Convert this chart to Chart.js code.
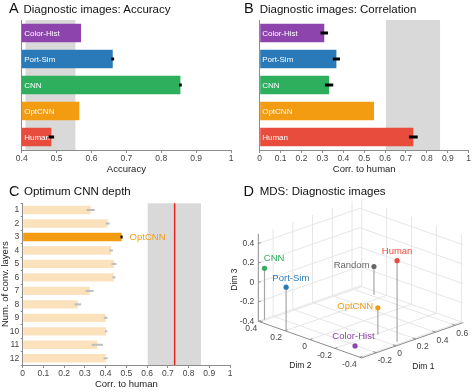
<!DOCTYPE html>
<html><head><meta charset="utf-8">
<script src="https://cdn.jsdelivr.net/npm/chart.js@4.4.1/dist/chart.umd.min.js"></script>
<style>
html,body{margin:0;padding:0;background:#fff;}
#wrap{position:relative;width:474px;height:392px;overflow:hidden;font-family:"Liberation Sans",Arial,Helvetica,sans-serif;}
canvas{position:absolute;}
.lt{position:absolute;font-size:14.5px;line-height:1;color:#111;}
.tt{position:absolute;font-size:11.5px;line-height:1;color:#111;white-space:nowrap;}
</style></head><body>
<div id="wrap">
<canvas id="cA" width="237" height="176" style="left:0;top:0"></canvas>
<canvas id="cB" width="237" height="176" style="left:237px;top:0"></canvas>
<canvas id="cC" width="237" height="212" style="left:0;top:180px"></canvas>
<canvas id="cD" width="248" height="212" style="left:226px;top:180px"></canvas>
<div class="lt" style="left:9px;top:1px">A</div><div class="tt" style="left:23.5px;top:3.6px">Diagnostic images: Accuracy</div>
<div class="lt" style="left:244px;top:1px">B</div><div class="tt" style="left:259.7px;top:3.6px">Diagnostic images: Correlation</div>
<div class="lt" style="left:9px;top:183.7px">C</div><div class="tt" style="left:24px;top:186.3px">Optimum CNN depth</div>
<div class="lt" style="left:243.5px;top:183.7px">D</div><div class="tt" style="left:259.7px;top:186.3px">MDS: Diagnostic images</div>
</div>
<script>
// ---------------- DATA ----------------
const modelNames = ['Color-Hist', 'Port-Sim', 'CNN', 'OptCNN', 'Human'];
const accuracy = [0.570, 0.661, 0.855, 0.565, 0.485];
const accuracyErr = [0, 0.004, 0.004, 0, 0.008];
const accuracyCeiling = [0.411, 0.554];
const accuracyTicks = [0.4, 0.5, 0.6, 0.7, 0.8, 0.9, 1];

const corrToHuman = [0.309, 0.367, 0.332, 0.547, 0.735];
const corrErr = [0.018, 0.017, 0.020, 0, 0.021];
const corrCeiling = [0.604, 0.863];
const corrTicks = [0, 0.1, 0.2, 0.3, 0.4, 0.5, 0.6, 0.7, 0.8, 0.9, 1];

const layerLabels = ['1', '2', '3', '4', '5', '6', '7', '8', '9', '10', '11', '12'];
const layerCorr = [0.328, 0.410, 0.477, 0.426, 0.440, 0.440, 0.323, 0.266, 0.400, 0.402, 0.360, 0.400];
const layerErr = [0.020, 0.010, 0.005, 0.009, 0.012, 0.008, 0.019, 0.016, 0.009, 0.006, 0.027, 0.010];
const optLayer = '3';
const layerCeiling = [0.603, 0.860];
const humanConsistency = 0.733;

const mdsNames = ['CNN', 'Port-Sim', 'Random', 'Human', 'OptCNN', 'Color-Hist'];
const mdsDim1 = [-0.295, -0.347, 0.627, 0.064, 0.067, -0.225];
const mdsDim2 = [0.409, 0.194, 0.260, -0.372, -0.215, -0.263];
const mdsDim3 = [0.128, 0.050, -0.110, 0.435, -0.123, -0.390];
const dim1Ticks = [-0.2, 0, 0.2, 0.4, 0.6];
const dim2Ticks = [-0.4, -0.2, 0, 0.2, 0.4];
const dim3Ticks = [-0.4, -0.2, 0, 0.2, 0.4];
const dim1Lim = [-0.35, 0.68];
const dim2Lim = [-0.415, 0.415];
const dim3Lim = [-0.4, 0.5];

// ---------------- STYLE ----------------
const FONT = '"Liberation Sans", Arial, Helvetica, sans-serif';
const palette = {
  'Color-Hist': '#8e44ad', 'Port-Sim': '#2a7ab9', 'CNN': '#2daf5e',
  'OptCNN': '#f39c12', 'Human': '#e74c3c', 'Random': '#666666'
};
const AXIS = '#8c8c8c', TICKTXT = '#444', TITLETXT = '#222', BAND = '#d9d9d9';
Chart.defaults.font.family = FONT;

const fmt = v => String(Math.round(v * 10) / 10);

function bandPlugin(range, line) {
  return { id: 'band', beforeDatasetsDraw(chart) {
    const { ctx, chartArea: a, scales: { x } } = chart;
    ctx.save();
    ctx.fillStyle = BAND;
    const x1 = x.getPixelForValue(range[0]), x2 = x.getPixelForValue(range[1]);
    ctx.fillRect(x1, a.top, x2 - x1, a.bottom - a.top);
    if (line != null) {
      const xl = x.getPixelForValue(line);
      ctx.strokeStyle = '#e8261f'; ctx.lineWidth = 1.5;
      ctx.beginPath(); ctx.moveTo(xl, a.top); ctx.lineTo(xl, a.bottom); ctx.stroke();
    }
    ctx.restore();
  } };
}
function errPlugin(values, errs, colorOf, widthOf) {
  return { id: 'err', afterDatasetsDraw(chart) {
    const meta = chart.getDatasetMeta(0), x = chart.scales.x, ctx = chart.ctx;
    ctx.save();
    values.forEach((v, i) => {
      const e = errs[i]; if (!e) return;
      const y = meta.data[i].y;
      ctx.strokeStyle = colorOf(i); ctx.lineWidth = widthOf(i);
      ctx.beginPath(); ctx.moveTo(x.getPixelForValue(v - e), y); ctx.lineTo(x.getPixelForValue(v + e), y); ctx.stroke();
    });
    ctx.restore();
  } };
}
function insideLabelPlugin(labels) {
  return { id: 'inlab', afterDatasetsDraw(chart) {
    const meta = chart.getDatasetMeta(0), ctx = chart.ctx, a = chart.chartArea;
    ctx.save();
    ctx.fillStyle = '#fff'; ctx.font = '8px ' + FONT; ctx.textBaseline = 'middle'; ctx.textAlign = 'left';
    labels.forEach((t, i) => ctx.fillText(t, a.left + 2.5, meta.data[i].y + 0.5));
    ctx.restore();
  } };
}

function xAxis(min, max, ticks, title, h, titlePad) {
  return {
    type: 'linear', min, max,
    afterBuildTicks: s => { s.ticks = ticks.map(v => ({ value: v })); },
    afterFit: s => { s.height = h; },
    ticks: { font: { size: 8.5 }, color: TICKTXT, padding: 1, callback: v => fmt(v), maxRotation: 0, autoSkip: false },
    grid: { drawOnChartArea: false, drawTicks: true, tickLength: 3, color: AXIS },
    border: { color: AXIS },
    title: { display: true, text: title, font: { size: 9.5 }, color: TITLETXT, padding: { top: 0, bottom: titlePad } }
  };
}

function modelPanel(id, values, errs, ceiling, min, max, ticks, title, padLeft, padRight) {
  return new Chart(document.getElementById(id), {
    type: 'bar',
    data: { labels: modelNames, datasets: [{ data: values, backgroundColor: modelNames.map(n => palette[n]),
      barPercentage: 0.72, categoryPercentage: 1, borderWidth: 0 }] },
    options: {
      indexAxis: 'y', responsive: false, animation: false, devicePixelRatio: 1,
      layout: { padding: { left: padLeft, right: padRight, top: 20, bottom: 0 } },
      scales: {
        x: xAxis(min, max, ticks, title, 26, 1.3),
        y: { ticks: { display: false }, grid: { display: false, drawTicks: false },
             border: { display: true, color: AXIS }, afterFit: s => { s.width = 0; } }
      },
      plugins: { legend: { display: false }, tooltip: { enabled: false } }
    },
    plugins: [bandPlugin(ceiling), insideLabelPlugin(modelNames), errPlugin(values, errs, () => '#000', () => 3)]
  });
}

modelPanel('cA', accuracy, accuracyErr, accuracyCeiling, 0.4, 1, accuracyTicks, 'Accuracy', 21.7, 6);
modelPanel('cB', corrToHuman, corrErr, corrCeiling, 0, 1, corrTicks, 'Corr. to human', 22.7, 5.3);

// ---------------- PANEL C ----------------
const optIdx = layerLabels.indexOf(optLayer);
new Chart(document.getElementById('cC'), {
  type: 'bar',
  data: { labels: layerLabels, datasets: [{ data: layerCorr,
    backgroundColor: layerLabels.map((l, i) => i === optIdx ? palette['OptCNN'] : '#fbe2bd'),
    barPercentage: 0.62, categoryPercentage: 1, borderWidth: 0 }] },
  options: {
    indexAxis: 'y', responsive: false, animation: false, devicePixelRatio: 1,
    layout: { padding: { left: 0, right: 7, top: 23.3, bottom: 0 } },
    scales: {
      x: xAxis(0, 1, corrTicks, 'Corr. to human', 27, 1.8),
      y: { afterFit: s => { s.width = 22.7; },
           ticks: { font: { size: 8.5 }, color: TICKTXT, padding: 1.5, autoSkip: false },
           grid: { drawOnChartArea: false, drawTicks: true, tickLength: 2, color: AXIS }, border: { display: true, color: AXIS },
           title: { display: true, text: 'Num. of conv. layers', font: { size: 9.5 }, color: TITLETXT, padding: { top: 0, bottom: 0 } } }
    },
    plugins: { legend: { display: false }, tooltip: { enabled: false } }
  },
  plugins: [bandPlugin(layerCeiling, humanConsistency),
    errPlugin(layerCorr, layerErr, i => i === optIdx ? '#000' : '#bdbdbd', i => i === optIdx ? 3 : 2),
    { id: 'optlab', afterDatasetsDraw(chart) {
      const ctx = chart.ctx, y = chart.getDatasetMeta(0).data[optIdx].y, x = chart.scales.x;
      ctx.save(); ctx.fillStyle = palette['OptCNN']; ctx.font = '9.5px ' + FONT;
      ctx.textBaseline = 'middle'; ctx.textAlign = 'left';
      ctx.fillText('OptCNN', x.getPixelForValue(layerCorr[optIdx] + layerErr[optIdx]) + 7, y + 0.5);
      ctx.restore();
    } }]
});

// ---------------- PANEL D (3-D MDS, oblique projection) ----------------
const D_W = 248, D_H = 212;
const D_ORIGIN = [136, 180.7];          // projected position of the (min,min,min) corner
const D_EX = [101.9, -35.6], D_EY = [-128.6, -45.8], D_EZ = [0, -101];
function project(a, b, c) {
  const u = a - dim1Lim[0], v = b - dim2Lim[0], w = c - dim3Lim[0];
  return { x: D_ORIGIN[0] + u * D_EX[0] + v * D_EY[0] + w * D_EZ[0],
           y: D_ORIGIN[1] + u * D_EX[1] + v * D_EY[1] + w * D_EZ[1] };
}
const labelPlace = {
  'CNN': ['left', -0.7, -10], 'Port-Sim': ['center', 4.7, -9], 'Random': ['right', -4.4, -0.7],
  'Human': ['center', 0, -9.7], 'OptCNN': ['right', -4.7, -1.4], 'Color-Hist': ['center', -1.6, -10]
};

new Chart(document.getElementById('cD'), {
  type: 'scatter',
  data: { datasets: [{ data: mdsNames.map((n, i) => project(mdsDim1[i], mdsDim2[i], mdsDim3[i])),
    pointRadius: 2.6, pointBorderWidth: 0, pointBackgroundColor: mdsNames.map(n => palette[n]) }] },
  options: {
    responsive: false, animation: false, devicePixelRatio: 1,
    layout: { padding: 0 },
    scales: { x: { type: 'linear', display: false, min: 0, max: D_W },
              y: { type: 'linear', display: false, min: 0, max: D_H, reverse: true } },
    plugins: { legend: { display: false }, tooltip: { enabled: false } }
  },
  plugins: [{ id: 'box3d',
    beforeDatasetsDraw(chart) {
      const ctx = chart.ctx, sx = chart.scales.x, sy = chart.scales.y;
      const P = (a, b, c) => { const p = project(a, b, c); return [sx.getPixelForValue(p.x), sy.getPixelForValue(p.y)]; };
      const seg = (p, q) => { ctx.beginPath(); ctx.moveTo(p[0], p[1]); ctx.lineTo(q[0], q[1]); ctx.stroke(); };
      const [x0, x1] = dim1Lim, [y0, y1] = dim2Lim, [z0, z1] = dim3Lim;
      ctx.save();
      ctx.strokeStyle = '#e6e6e6'; ctx.lineWidth = 1;
      dim1Ticks.forEach(t => { seg(P(t, y0, z0), P(t, y1, z0)); seg(P(t, y1, z0), P(t, y1, z1)); });
      dim2Ticks.forEach(t => { seg(P(x0, t, z0), P(x1, t, z0)); seg(P(x1, t, z0), P(x1, t, z1)); });
      dim3Ticks.forEach(t => { seg(P(x0, y1, t), P(x1, y1, t)); seg(P(x1, y0, t), P(x1, y1, t)); });
      // axes
      ctx.strokeStyle = AXIS;
      seg(P(x0, y0, z0), P(x1, y0, z0));
      seg(P(x0, y0, z0), P(x0, y1, z0));
      seg(P(x0, y1, z0), P(x0, y1, z1));
      dim1Ticks.forEach(t => seg(P(t, y0, z0), P(t, y0 + 0.025, z0)));
      dim2Ticks.forEach(t => seg(P(x0, t, z0), P(x0 + 0.025, t, z0)));
      dim3Ticks.forEach(t => seg(P(x0, y1, t), P(x0 + 0.025, y1, t)));
      // tick labels
      ctx.fillStyle = TICKTXT; ctx.font = '8.5px ' + FONT; ctx.textBaseline = 'middle';
      ctx.textAlign = 'left';
      dim1Ticks.forEach(t => { const p = P(t, y0, z0); ctx.fillText(fmt(t), p[0] + 1, p[1] + 8); });
      ctx.textAlign = 'right';
      dim2Ticks.forEach(t => { const p = P(x0, t, z0); ctx.fillText(fmt(t), p[0] - 3, p[1] + 7); });
      dim3Ticks.forEach(t => { const p = P(x0, y1, t); ctx.fillText(fmt(t), p[0] - 4, p[1]); });
      // axis titles
      ctx.fillStyle = TITLETXT; ctx.font = '8.5px ' + FONT; ctx.textAlign = 'center';
      let m = P((x0 + x1) / 2, y0, z0); ctx.fillText('Dim 1', m[0] + 11, m[1] + 26);
      m = P(x0, (y0 + y1) / 2, z0); ctx.fillText('Dim 2', m[0] - 9.6, m[1] + 26);
      m = P(x0, y1, (z0 + z1) / 2);
      ctx.save(); ctx.translate(m[0] - 23.5, m[1] + 2); ctx.rotate(-Math.PI / 2); ctx.fillText('Dim 3', 0, 0); ctx.restore();
      // stems
      ctx.strokeStyle = '#a6a6a6'; ctx.lineWidth = 1.2;
      mdsNames.forEach((n, i) => seg(P(mdsDim1[i], mdsDim2[i], mdsDim3[i]), P(mdsDim1[i], mdsDim2[i], z0)));
      ctx.restore();
    },
    afterDatasetsDraw(chart) {
      const ctx = chart.ctx, meta = chart.getDatasetMeta(0);
      ctx.save(); ctx.font = '9.5px ' + FONT; ctx.textBaseline = 'middle';
      mdsNames.forEach((n, i) => {
        const pl = labelPlace[n], el = meta.data[i];
        ctx.fillStyle = palette[n]; ctx.textAlign = pl[0];
        ctx.fillText(n, el.x + pl[1], el.y + pl[2]);
      });
      ctx.restore();
    }
  }]
});
</script>
</body></html>
